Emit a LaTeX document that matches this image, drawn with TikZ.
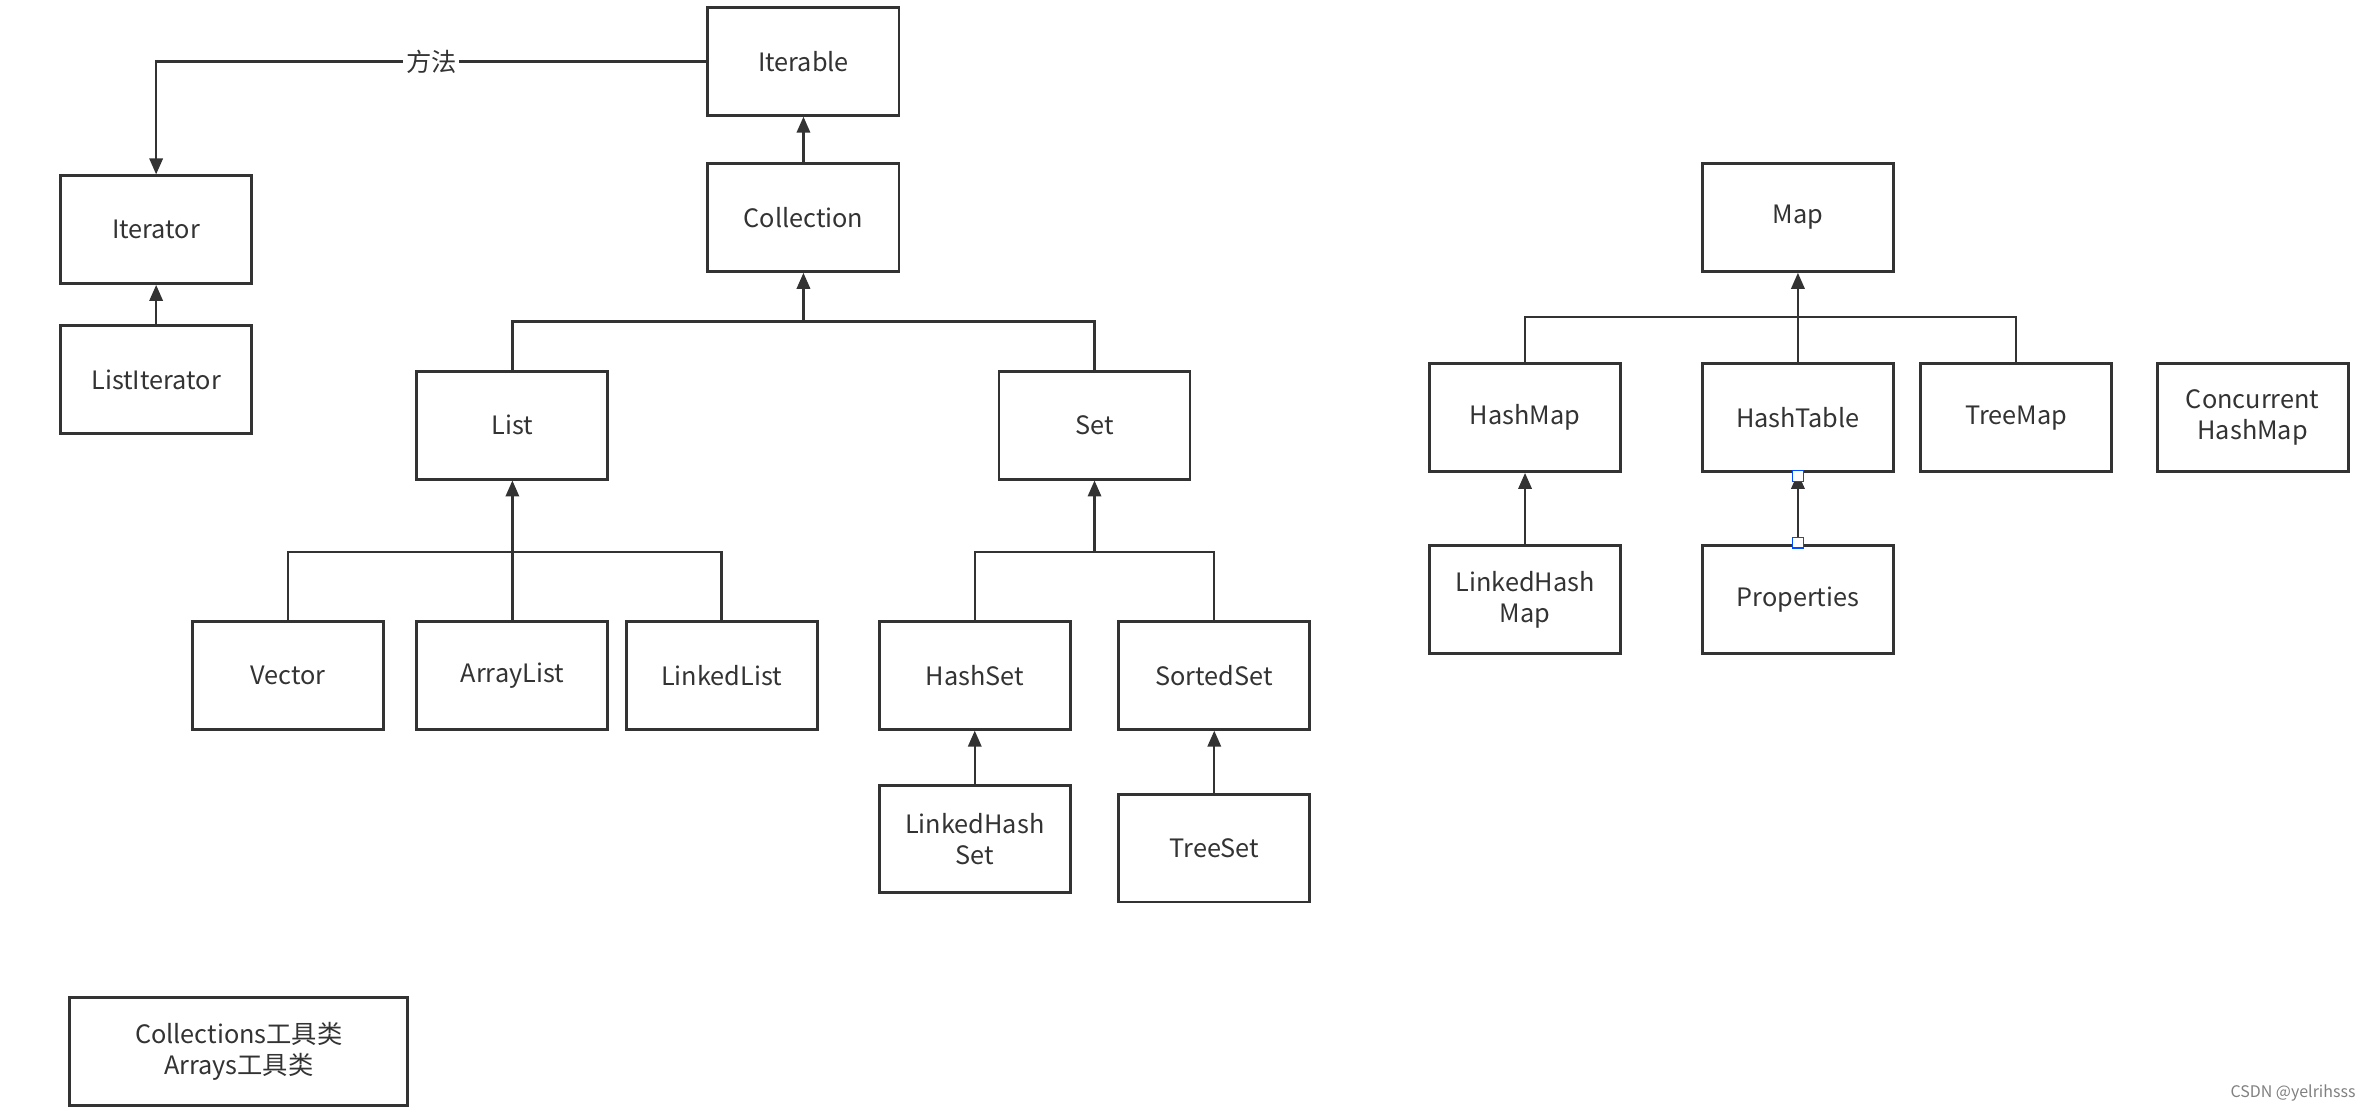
\documentclass[tikz,border=0pt]{standalone}
\usepackage{fontspec}
\setmainfont{Noto Sans CJK SC}
\usetikzlibrary{arrows.meta}
\definecolor{ln}{HTML}{333333}
\tikzset{
 box/.style={draw=ln,line width=1.1pt,minimum width=126*0.02cm,minimum height=71*0.02cm,align=center,font=\fontsize{9.5}{11.5}\selectfont,text=ln,inner sep=0pt},
 conn/.style={draw=ln,line width=0.9pt},
 arr/.style={conn,-{Triangle[length=6pt,width=5pt]}},
 hnd/.style={draw=blue!70!cyan,fill=white,line width=0.5pt,minimum size=4pt,inner sep=0pt}
}
\begin{document}
\begin{tikzpicture}[x=0.02cm,y=-0.02cm]
\useasboundingbox (0,0) rectangle (1568,733);
\node[box] (iterable) at (530,40.5) {Iterable};
\node[box] (collection) at (530,143.5) {Collection};
\node[box] (iterator) at (103,151.5) {Iterator};
\node[box] (listit) at (103,250.5) {ListIterator};
\node[box] (list) at (338,280.5) {List};
\node[box] (set) at (722,280.5) {Set};
\node[box] (vector) at (190,445.5) {Vector};
\node[box] (arraylist) at (338,445.5) {ArrayList};
\node[box] (linkedlist) at (476,445.5) {LinkedList};
\node[box] (hashset) at (643,445.5) {HashSet};
\node[box] (sortedset) at (801,445.5) {SortedSet};
\node[box] (lhs) at (643,553.5) {LinkedHash\\Set};
\node[box] (treeset) at (801,559.5) {TreeSet};
\node[box] (map) at (1186,143.5) {Map};
\node[box] (hashmap) at (1006,275.5) {HashMap};
\node[box] (hashtable) at (1186,275.5) {HashTable};
\node[box] (treemap) at (1330,275.5) {TreeMap};
\node[box] (chm) at (1486,275.5) {Concurrent\\HashMap};
\node[box] (lhm) at (1006,395.5) {LinkedHash\\Map};
\node[box] (props) at (1186,395.5) {Properties};
\node[box,minimum width=223*0.02cm] (tools) at (157.5,693.5) {Collections工具类\\Arrays工具类};
\node[text=gray,font=\fontsize{6}{7}\selectfont,anchor=east] (wm) at (1560,721) {CSDN @yelrihsss};

\draw[arr] (iterable.west) -| node[pos=0.25,fill=white,inner sep=1pt,font=\fontsize{9.5}{11}\selectfont,text=ln]{方法} (iterator.north);
\draw[arr] (listit.north) -- (iterator.south);
\draw[arr] (collection.north) -- (iterable.south);
\coordinate (cb) at (530,212);
\draw[conn] (list.north) |- (cb) -| (set.north);
\draw[arr] (cb) -- (collection.south);
\coordinate (lb) at (338,364);
\draw[conn] (vector.north) |- (lb) -| (linkedlist.north);
\draw[arr] (arraylist.north) -- (list.south);
\coordinate (sb) at (722,364);
\draw[conn] (hashset.north) |- (sb) -| (sortedset.north);
\draw[arr] (sb) -- (set.south);
\draw[arr] (lhs.north) -- (hashset.south);
\draw[arr] (treeset.north) -- (sortedset.south);
\coordinate (mb) at (1186,209);
\draw[conn] (hashmap.north) |- (mb) -| (treemap.north);
\draw[arr] (hashtable.north) -- (map.south);
\draw[arr] (lhm.north) -- (hashmap.south);
\draw[arr] (props.north) -- (hashtable.south);
\node[hnd] (h1) at (1186,314) {};
\node[hnd] (h2) at (1186,358) {};
\end{tikzpicture}
\end{document}
